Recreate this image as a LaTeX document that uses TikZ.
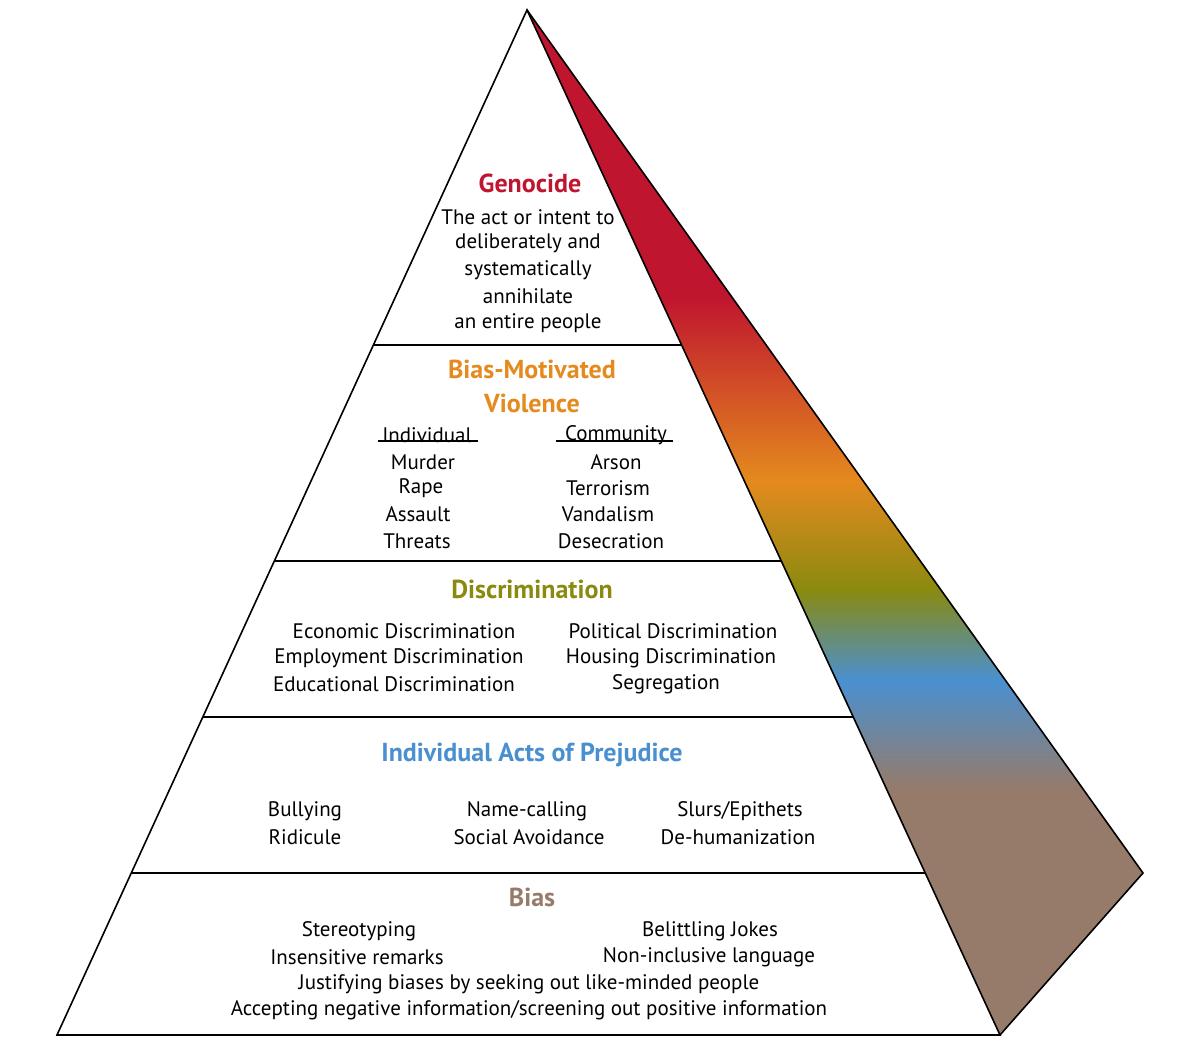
\documentclass[tikz,border=0pt]{standalone}
\usepackage{fontspec}
\setmainfont{PT Sans}
\definecolor{cred}{HTML}{C0152F}
\definecolor{corange}{HTML}{E48A1E}
\definecolor{colive}{HTML}{8A8A10}
\definecolor{cblue}{HTML}{4A90D0}
\definecolor{cbrown}{HTML}{967B6A}
\pgfdeclareverticalshading{sidegrad}{100bp}{color(0bp)=(cbrown); color(37bp)=(cbrown); color(42.3bp)=(cblue); color(46.7bp)=(colive); color(52bp)=(corange); color(61bp)=(cred); color(100bp)=(cred)}
\begin{document}
\begin{tikzpicture}[x=0.5pt,y=-0.5pt,
  txt/.style={font=\fontsize{10.5}{12}\selectfont, inner sep=0pt, anchor=center},
  ttl/.style={font=\fontsize{13}{15}\selectfont\bfseries, inner sep=0pt, anchor=center},
  edge/.style={line width=0.8pt, line join=miter}]
\useasboundingbox (0,0) rectangle (1200,1053);
\coordinate (A) at (527,10);
\coordinate (BL) at (57,1035);
\coordinate (BR) at (1000,1035);
\coordinate (S) at (1143,873);
\fill[shading=sidegrad] (A) -- (BR) -- (S) -- cycle;
\draw[edge] (A) -- (BL) -- (BR) -- cycle;
\draw[edge] (A) -- (S) -- (BR);
\coordinate (l1) at (373,345); \coordinate (r1) at (681,345);
\coordinate (l2) at (274.3,561); \coordinate (r2) at (781,561);
\coordinate (l3) at (203,717); \coordinate (r3) at (853,717);
\coordinate (l4) at (131,873); \coordinate (r4) at (925,873);
\draw[edge] (l1) -- (r1) (l2) -- (r2) (l3) -- (r3) (l4) -- (r4);
% Genocide
\node[ttl, text=cred] (g0) at (530,183) {Genocide};
\node[txt] (g1) at (528,217) {The act or intent to};
\node[txt] (g2) at (528,243) {deliberately and};
\node[txt] (g3) at (528,270) {systematically};
\node[txt] (g4) at (528,296) {annihilate};
\node[txt] (g5) at (528,323) {an entire people};
% Violence
\node[ttl, text=corange] (v0) at (532,369) {Bias-Motivated};
\node[ttl, text=corange] (v1) at (532,403) {Violence};
\node[txt] (vi) at (427,435) {Individual};
\node[txt] (vc) at (616,435) {Community};
\draw[line width=0.6pt] (378,441) -- (478,441) (556,441) -- (673,441);
\node[txt] (v2) at (423,462) {Murder};
\node[txt] (v3) at (421,488) {Rape};
\node[txt] (v4) at (418,514) {Assault};
\node[txt] (v5) at (417,541) {Threats};
\node[txt] (v6) at (616,462) {Arson};
\node[txt] (v7) at (608,488) {Terrorism};
\node[txt] (v8) at (608,514) {Vandalism};
\node[txt] (v9) at (611,541) {Desecration};
% Discrimination
\node[ttl, text=colive] (d0) at (532,589) {Discrimination};
\node[txt] (d1) at (404,631) {Economic Discrimination};
\node[txt] (d2) at (399,658) {Employment Discrimination};
\node[txt] (d3) at (394,684) {Educational Discrimination};
\node[txt] (d4) at (673,631) {Political Discrimination};
\node[txt] (d5) at (671,658) {Housing Discrimination};
\node[txt] (d6) at (666,684) {Segregation};
% Prejudice
\node[ttl, text=cblue] (p0) at (532,755) {Individual Acts of Prejudice};
\node[txt] (p1) at (305,811) {Bullying};
\node[txt] (p2) at (305,837) {Ridicule};
\node[txt] (p3) at (527,811) {Name-calling};
\node[txt] (p4) at (529,837) {Social Avoidance};
\node[txt] (p5) at (740,811) {Slurs/Epithets};
\node[txt] (p6) at (738,837) {De-humanization};
% Bias
\node[ttl, text=cbrown] (b0) at (532,897) {Bias};
\node[txt] (b1) at (359,931) {Stereotyping};
\node[txt] (b2) at (357,957) {Insensitive remarks};
\node[txt] (b3) at (710,931) {Belittling Jokes};
\node[txt] (b4) at (709,957) {Non-inclusive language};
\node[txt] (b5) at (529,984) {Justifying biases by seeking out like-minded people};
\node[txt] (b6) at (529,1010) {Accepting negative information/screening out positive information};
\end{tikzpicture}
\end{document}
